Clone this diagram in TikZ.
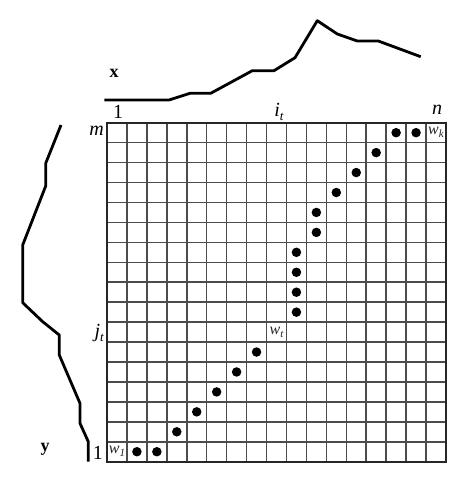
\documentclass[tikz,border=0pt]{standalone}
\usepackage{fontspec}
\setmainfont{Liberation Serif}
\newcommand{\subsc}[1]{\raisebox{-0.4ex}{\fontsize{13}{13}\selectfont\itshape #1}}
\newcommand{\wsubsc}[1]{\raisebox{-0.4ex}{\fontsize{11}{11}\selectfont\itshape #1}}
\begin{document}
\begin{tikzpicture}[x=1pt,y=-1pt,
  gridline/.style={line width=1.5pt,draw=black!70},
  frameline/.style={line width=2pt,draw=black!85},
  curve/.style={line width=2.8pt,line join=round,line cap=butt},
  pathdot/.style={circle,fill=black,inner sep=0pt,minimum size=9.5pt},
  lbl/.style={font=\fontsize{20}{20}\selectfont,inner sep=0pt},
  wlbl/.style={font=\fontsize{16}{16}\selectfont,inner sep=0pt,text=black!85},
  axlbl/.style={font=\fontsize{18}{18}\selectfont\bfseries,inner sep=0pt}]
\useasboundingbox (0,0) rectangle (474,488);
\def\cw{19.94}
% grid
\foreach \i in {1,...,16} {
  \draw[gridline] ({107+\cw*\i},122.5) -- ({107+\cw*\i},461.7);
  \draw[gridline] (107,{461.7-\cw*\i}) -- (446,{461.7-\cw*\i});
}
\draw[frameline] (107,122.5) rectangle (446,461.7);
% warping path dots (col,row from bottom)
\foreach \c/\r [count=\k] in {2/1,3/1,4/2,5/3,6/4,7/5,8/6,10/8,10/9,10/10,10/11,11/12,11/13,12/14,13/15,14/16,15/17,16/17} {
  \node[pathdot] (d\k) at ({107+\cw*(\c-0.5)},{461.7-\cw*(\r-0.5)}) {};
}
\node[wlbl] (w1) at ({107+\cw*0.5},{461.7-\cw*0.5}) {\textit{w}\wsubsc{1}};
\node[wlbl] (wt) at ({107+\cw*8.5},{461.7-\cw*6.5}) {\textit{w}\wsubsc{t}};
\node[wlbl] (wk) at ({107+\cw*16.5},{461.7-\cw*16.5}) {\textit{w}\wsubsc{k}};
% axis labels
\node[lbl] (one1) at (118,112) {1};
\node[lbl] (it) at (279,112) {\textit{i}\subsc{t}};
\node[lbl] (n) at (437,110) {\textit{n}};
\node[lbl,anchor=east] (m) at (104,131) {\textit{m}};
\node[lbl,anchor=east] (jt) at (104,333) {\textit{j}\subsc{t}};
\node[lbl,anchor=east] (one2) at (103,453) {1};
\node[axlbl] (xl) at (114,73) {x};
\node[axlbl] (yl) at (45,449) {y};
% series x
\draw[curve] (104.3,100) -- (169,100) -- (190,93.3) -- (210.7,93.3) -- (252.3,70.7) -- (274,70.7) -- (295,57.7) -- (317.3,20.7) -- (337.3,34) -- (357.3,41) -- (378.3,41) -- (420.7,56.7);
% series y
\draw[curve] (61,125) -- (45.7,163.3) -- (45.7,186) -- (22.7,245) -- (22.7,302.7) -- (42.7,321.7) -- (59.3,335) -- (59.3,355) -- (80,403.3) -- (80,423.3) -- (88.3,441.7) -- (88.3,461.7);
\end{tikzpicture}
\end{document}
